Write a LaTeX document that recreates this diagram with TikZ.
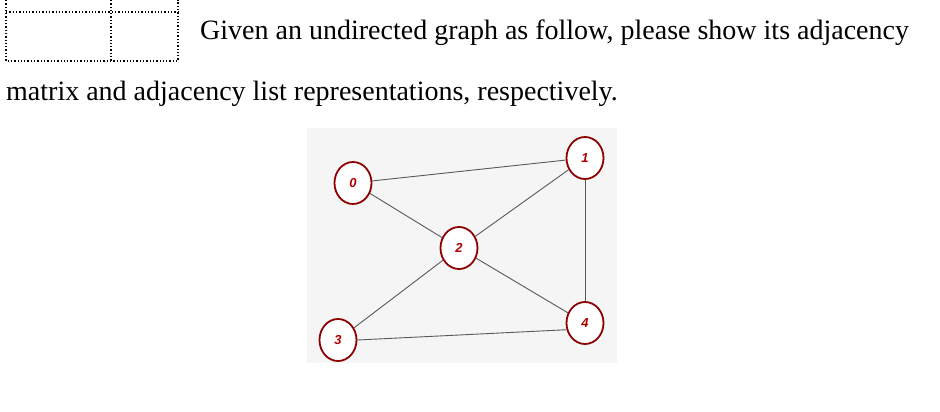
\documentclass[tikz,border=0pt]{standalone}
\usepackage{fontspec}
\setmainfont{Liberation Serif}
\newfontfamily\vfont{Liberation Sans}
\usetikzlibrary{shapes.geometric}
\begin{document}
\begin{tikzpicture}[x=1pt,y=-1pt,
  vtx/.style={draw=red!55!black,line width=1.8pt,fill=white,ellipse,minimum width=37pt,minimum height=42pt,inner sep=0pt,font=\vfont\bfseries\itshape\fontsize{13}{13}\selectfont,text=red!70!black},
  edge/.style={draw=gray!70!black,line width=0.9pt},
  dots/.style={line width=1.3pt,dotted},
  txt/.style={anchor=base west,inner sep=0pt,font=\fontsize{28}{32}\selectfont}]
\useasboundingbox (0,0) rectangle (940,412);
\draw[dots] (6,0) -- (6,61) -- (178,61) -- (178,0);
\draw[dots] (111,0) -- (111,61);
\draw[dots] (6,12) -- (178,12);
\node[txt] (t1) at (200,40) {Given an undirected graph as follow, please show its adjacency};
\node[txt] (t2) at (6,100) {matrix and adjacency list representations, respectively.};
\fill[gray!8] (307,128) rectangle (617,363);
\node[vtx] (n0) at (353,183) {0};
\node[vtx] (n1) at (585,158) {1};
\node[vtx] (n2) at (459,248) {2};
\node[vtx] (n3) at (338,340) {3};
\node[vtx] (n4) at (585,323) {4};
\draw[edge] (n0) -- (n1);
\draw[edge] (n0) -- (n2);
\draw[edge] (n1) -- (n2);
\draw[edge] (n1) -- (n4);
\draw[edge] (n2) -- (n3);
\draw[edge] (n2) -- (n4);
\draw[edge] (n3.east) -- (n4.200);
\end{tikzpicture}
\end{document}
